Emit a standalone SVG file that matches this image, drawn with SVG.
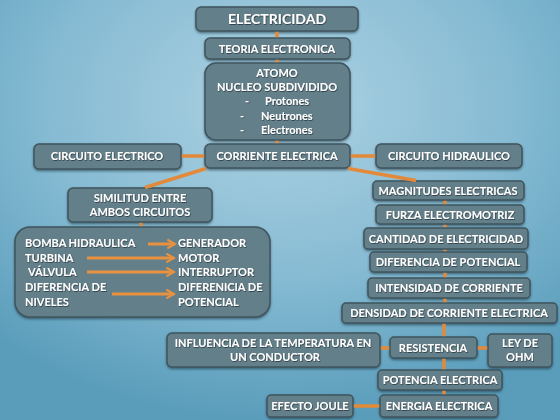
<svg xmlns="http://www.w3.org/2000/svg" width="560" height="420" viewBox="0 0 560 420">
<defs>
<radialGradient id="bg" cx="50%" cy="25%" r="75%">
<stop offset="0" stop-color="#aed2e3"/>
<stop offset="0.55" stop-color="#86bbd3"/>
<stop offset="1" stop-color="#5a9dbb"/>
</radialGradient>
<filter id="sh" x="-10%" y="-20%" width="120%" height="150%">
<feDropShadow dx="0" dy="1.5" stdDeviation="1" flood-color="#1e3640" flood-opacity="0.6"/>
</filter>
<filter id="ts" x="-5%" y="-20%" width="110%" height="150%">
<feDropShadow dx="0.6" dy="0.8" stdDeviation="0.4" flood-color="#1a2a30" flood-opacity="0.85"/>
</filter>
<marker id="chev" viewBox="0 0 10 10" refX="8" refY="5" markerWidth="11" markerHeight="11" markerUnits="userSpaceOnUse" orient="auto">
<path d="M1,1 L8,5 L1,9" fill="none" stroke="#e8913e" stroke-width="2"/>
</marker>
</defs>
<style>
.box{fill:#63808a;stroke:#3f545c;stroke-width:1.5;filter:url(#sh)}
text{font-family:Lato,"Open Sans","Liberation Sans",sans-serif;font-weight:bold;fill:#ffffff;font-size:11px;filter:url(#ts)}
.c{text-anchor:middle}
.con{stroke:#e38a3a;stroke-width:3.5;fill:none}
.arr{stroke:#e8913e;stroke-width:3;fill:none;marker-end:url(#chev)}
</style>
<rect x="0" y="0" width="560" height="420" fill="url(#bg)"/>

<g id="electricidad"><rect class="box" x="196" y="7" width="162" height="24" rx="5"/><text class="c" x="277" y="24" style="font-size:14px">ELECTRICIDAD</text></g>
<g id="teoria"><rect class="box" x="205" y="38" width="145" height="21" rx="5"/><text class="c" x="277" y="52.5">TEORIA ELECTRONICA</text></g>
<g id="atomo"><rect class="box" x="205" y="63" width="145" height="77" rx="11"/>
<text class="c" x="277" y="77">ATOMO</text>
<text class="c" x="277" y="91">NUCLEO SUBDIVIDIDO</text>
<text x="245" y="105">-</text><text x="265" y="105">Protones</text>
<text x="240" y="120">-</text><text x="261" y="120">Neutrones</text>
<text x="240" y="134">-</text><text x="261" y="134">Electrones</text>
</g>
<g id="corriente"><rect class="box" x="205" y="144" width="145" height="24" rx="5"/><text class="c" x="277" y="160">CORRIENTE ELECTRICA</text></g>
<g id="circuito-electrico"><rect class="box" x="34" y="144" width="147" height="25" rx="5"/><text class="c" x="107" y="160">CIRCUITO ELECTRICO</text></g>
<g id="circuito-hidraulico"><rect class="box" x="376" y="144" width="146" height="24" rx="5"/><text class="c" x="449" y="160">CIRCUITO HIDRAULICO</text></g>
<g id="similitud"><rect class="box" x="68" y="188" width="144" height="34" rx="5"/><text class="c" x="140" y="202">SIMILITUD ENTRE</text><text class="c" x="140" y="216">AMBOS CIRCUITOS</text></g>
<g id="comparacion"><rect class="box" x="15" y="227" width="255" height="90" rx="15"/>
<text x="25" y="247">BOMBA HIDRAULICA</text>
<text x="25" y="262">TURBINA</text>
<text x="28" y="276">VÁLVULA</text>
<text x="25" y="291">DIFERENCIA DE</text>
<text x="25" y="306">NIVELES</text>
<text x="178" y="247">GENERADOR</text>
<text x="178" y="262">MOTOR</text>
<text x="178" y="276">INTERRUPTOR</text>
<text x="178" y="291">DIFERENICIA DE</text>
<text x="178" y="306">POTENCIAL</text>
</g>
<g id="magnitudes"><rect class="box" x="373" y="181" width="151" height="19" rx="4"/><text class="c" x="448" y="194.5">MAGNITUDES ELECTRICAS</text></g>
<g id="fuerza"><rect class="box" x="376" y="205" width="148" height="19" rx="4"/><text class="c" x="450" y="218.5">FURZA ELECTROMOTRIZ</text></g>
<g id="cantidad"><rect class="box" x="364" y="228" width="164" height="21" rx="4"/><text class="c" x="446" y="242.5">CANTIDAD DE ELECTRICIDAD</text></g>
<g id="diferencia"><rect class="box" x="370" y="252" width="157" height="20" rx="4"/><text class="c" x="448" y="266">DIFERENCIA DE POTENCIAL</text></g>
<g id="intensidad"><rect class="box" x="368" y="278" width="162" height="20" rx="4"/><text class="c" x="449" y="292">INTENSIDAD DE CORRIENTE</text></g>
<g id="densidad"><rect class="box" x="342" y="303" width="215" height="20" rx="4"/><text class="c" x="449" y="317">DENSIDAD DE CORRIENTE ELECTRICA</text></g>
<g id="influencia"><rect class="box" x="167" y="333" width="213" height="34" rx="5"/><text class="c" x="273" y="347">INFLUENCIA DE LA TEMPERATURA EN</text><text x="230" y="361">UN CONDUCTOR</text></g>
<g id="resistencia"><rect class="box" x="390" y="337" width="87" height="21" rx="4"/><text class="c" x="433" y="351.5">RESISTENCIA</text></g>
<g id="ohm"><rect class="box" x="488" y="334" width="64" height="33" rx="4"/><text class="c" x="520" y="347">LEY DE</text><text class="c" x="520" y="361">OHM</text></g>
<g id="potencia"><rect class="box" x="378" y="370" width="124" height="20" rx="4"/><text class="c" x="440" y="384">POTENCIA ELECTRICA</text></g>
<g id="joule"><rect class="box" x="267" y="395" width="86" height="22" rx="4"/><text class="c" x="310" y="410">EFECTO JOULE</text></g>
<g id="energia"><rect class="box" x="380" y="395" width="118" height="22" rx="4"/><text class="c" x="439" y="410">ENERGIA ELECTRICA</text></g>

<g id="connectors">
<line class="con" x1="277" y1="31.8" x2="277" y2="37.2"/>
<line class="con" x1="277" y1="59.8" x2="277" y2="62.2"/>
<line class="con" x1="277" y1="140.8" x2="277" y2="143.2"/>
<line class="con" x1="181.8" y1="156" x2="204.2" y2="156"/>
<line class="con" x1="350.8" y1="156" x2="375.2" y2="156"/>
<line class="con" x1="206" y1="168.5" x2="145" y2="187.5"/>
<line class="con" x1="348" y1="168.5" x2="416" y2="180.5"/>
<line class="con" x1="141" y1="222.8" x2="141" y2="226.2"/>
<line class="con" x1="445" y1="200.8" x2="445" y2="204.2"/>
<line class="con" x1="445" y1="224.8" x2="445" y2="227.2"/>
<line class="con" x1="445" y1="249.8" x2="445" y2="251.2"/>
<line class="con" x1="445" y1="272.8" x2="445" y2="277.2"/>
<line class="con" x1="445" y1="298.8" x2="445" y2="302.2"/>
<line class="con" x1="444" y1="323.8" x2="444" y2="336.2" stroke-width="5"/>
<line class="con" x1="380.8" y1="348" x2="389.2" y2="348"/>
<line class="con" x1="477.8" y1="348" x2="487.2" y2="348"/>
<line class="con" x1="444" y1="358.8" x2="444" y2="369.2"/>
<line class="con" x1="444" y1="390.8" x2="444" y2="394.2"/>
<line class="con" x1="353.8" y1="406" x2="379.2" y2="406"/>
<line class="arr" x1="148" y1="244" x2="175" y2="244"/>
<line class="arr" x1="87" y1="258" x2="174" y2="258"/>
<line class="arr" x1="87" y1="272" x2="174" y2="272"/>
<line class="arr" x1="112" y1="294" x2="174" y2="294"/>
</g>
</svg>
